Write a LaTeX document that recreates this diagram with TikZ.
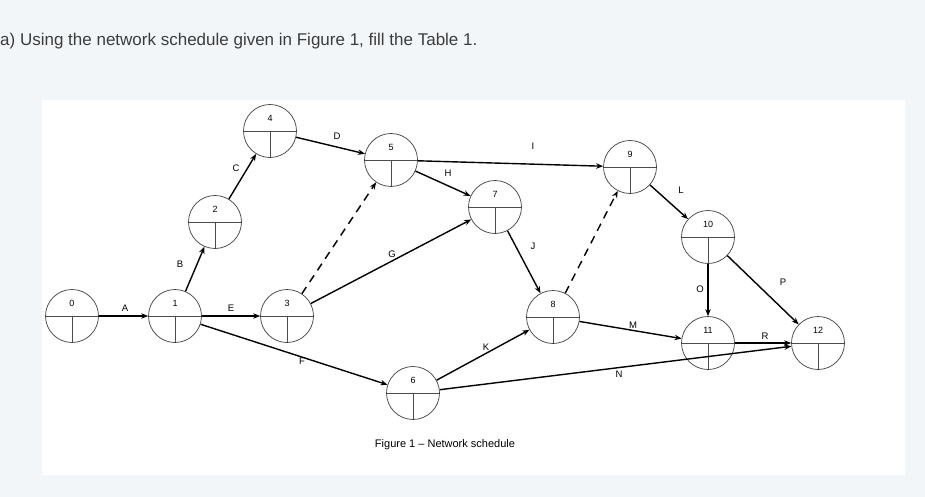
\documentclass[tikz,border=0pt]{standalone}
\usepackage{fontspec}
\setmainfont{Liberation Sans}
\usetikzlibrary{arrows.meta}
\begin{document}
\begin{tikzpicture}[x=1pt,y=-1pt,
  ev/.style={circle,draw=black!75,line width=0.7pt,minimum size=53pt,inner sep=0pt,
    path picture={\draw[black!70,line width=0.6pt]
      (path picture bounding box.west) -- (path picture bounding box.east)
      (path picture bounding box.center) -- (path picture bounding box.south);}},
  num/.style={font=\fontsize{9}{10}\selectfont},
  lbl/.style={font=\fontsize{9.5}{10}\selectfont},
  act/.style={line width=1.4pt,-{Stealth[length=7pt,width=5.5pt]}},
  dum/.style={act,dash pattern=on 8pt off 6pt}]
\useasboundingbox (0,0) rectangle (925,497);
\fill[fill={rgb,255:red,243;green,246;blue,249}] (0,0) rectangle (925,497);
\fill[white] (42,100) rectangle (905,475);
\node[anchor=base west,font=\fontsize{17}{20}\selectfont,text={rgb,255:red,60;green,60;blue,60},inner sep=0pt] (title) at (0,46) {a) Using the network schedule given in Figure 1, fill the Table 1.};
\foreach \n/\x/\y in {0/72/316,1/175/316,2/215/222,3/287/316,4/270/131,5/391/160,6/413/393,7/495/207,8/553/317,9/630/167,10/708/237,11/708/343,12/818/343}
  \node[ev,label={[num,anchor=center,yshift=13pt]center:\n}] (n\n) at (\x,\y) {};
\draw[act] (n0) -- (n1);
\draw[act] (n1) -- (n2);
\draw[act] (n2) -- (n4);
\draw[act] (n4) -- (n5);
\draw[act] (n1) -- (n3);
\draw[act] (n1) -- (n6);
\draw[act] (n3) -- (n7);
\draw[dum] (n3) -- (n5);
\draw[act] (n5) -- (n7);
\draw[act] (n5) -- (n9);
\draw[act] (n7) -- (n8);
\draw[act] (n6) -- (n8);
\draw[dum] (n8) -- (n9);
\draw[act] (n9) -- (n10);
\draw[act] (n8) -- (n11);
\draw[act] (n6) -- (n12);
\draw[act] (n10) -- (n11);
\draw[act] (n10) -- (n12);
\draw[act] (n11) -- (n12);
\foreach \t/\x/\y in {A/125/308,B/180/264,C/236/168,D/337/136,E/231/308,F/302/361,G/392/254,H/448/173,I/533/146,J/533/246,K/486/347,L/681/190,M/633/325,N/619/374,O/700/289,P/783/282,R/765/336}
  \node[lbl] (l\t) at (\x,\y) {\t};
\node[font=\fontsize{11}{13}\selectfont] (cap) at (445,445) {Figure 1 – Network schedule};
\end{tikzpicture}
\end{document}
